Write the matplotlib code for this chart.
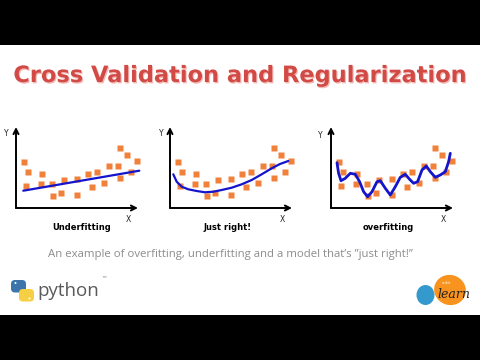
import matplotlib
matplotlib.use("Agg")
import matplotlib.pyplot as plt
import matplotlib.patheffects as pe
from matplotlib.patches import Circle, FancyBboxPatch, Ellipse

# scatter data (same points in all three panels), x right / y up from the axis origin
pts_x = [8.3, 12.3, 10, 25.7, 24.7, 35.7, 37.3, 44.7, 48.3, 60.7, 60.7,
         71.7, 75.7, 80.7, 88, 93, 102.3, 104.3, 111, 104.3, 115, 120.7]
pts_y = [46.3, 36.3, 22, 34, 24, 24, 12, 14.7, 28, 28.7, 12.7,
         34, 21, 36.3, 25, 42.3, 42.3, 59.7, 53, 30.3, 36.3, 47]

# fitted curves
under_x = [7.3, 123.3]
under_y = [17.3, 37.3]

right_x = [3.3, 6.7, 11.7, 18.3, 26.7, 35, 43.3, 51.7, 61.7, 71.7, 81.7, 91.7, 101.7, 110, 118.3]
right_y = [33.7, 26.3, 21.3, 18.7, 17, 15.7, 16.3, 18, 20.3, 23.7, 28, 33.7, 39.7, 44, 47]

over_x = [6, 7.6, 10, 14.3, 19.3, 24.3, 28.6, 32.6, 36.6, 41, 46, 49.3, 54.3, 59.3,
          64.3, 69.3, 74.3, 78.6, 82.6, 86.6, 91, 95.3, 99.3, 104.3, 109.3, 114.3, 117.6, 119.3]
over_y = [45.3, 34.7, 27.3, 29.7, 34.7, 33.7, 26.3, 16.3, 11.3, 16.3, 26.3, 27.3, 19.7, 13,
          21.3, 30.7, 33.7, 28.7, 24.7, 26.3, 38, 42, 36.3, 30.7, 33, 36.3, 46.3, 54.7]

titles = ["Underfitting", "Just right!", "overfitting"]
# panel origins in pixels (left, y of the x axis from top)
origins = [(16, 208), (170, 208), (331, 208)]
title_pos = [(82, 227), (228, 227), (388, 228)]
ylab_pos = [(6, 133), (161, 133), (320, 135)]
xlab_pos = [(128, 219), (282, 219), (443, 219)]

W, H = 480, 360
fig = plt.figure(figsize=(4.8, 3.6), dpi=100)
fig.patch.set_facecolor("white")

bg = fig.add_axes([0, 0, 1, 1])
bg.set_xlim(0, W)
bg.set_ylim(H, 0)
bg.axis("off")

# black letterbox bars
bg.fill_between([0, W], 0, 45, color="black", lw=0)
bg.fill_between([0, W], 315, H, color="black", lw=0)

# title with soft shadow
title = "Cross Validation and Regularization"
bg.text(240, 76, title, ha="center", va="center", fontsize=16.2,
        fontweight="bold", color="#d24a45", family="DejaVu Sans",
        path_effects=[pe.SimplePatchShadow(offset=(0.8, -1.0), shadow_rgbFace="#f2b8b4", alpha=1),
                      pe.Normal()])

pw, ph = 122, 81
curves = [(under_x, under_y, 1.6), (right_x, right_y, 1.6), (over_x, over_y, 2.0)]
for i, (ox, oy) in enumerate(origins):
    ax = fig.add_axes([ox / W, (H - oy) / H, pw / W, ph / H])
    ax.set_xlim(0, pw)
    ax.set_ylim(0, ph)
    ax.axis("off")
    ax.annotate("", xy=(0, 1.0), xytext=(0, 0), xycoords="axes fraction",
                arrowprops=dict(arrowstyle="->", lw=1.4, color="black",
                                shrinkA=0, shrinkB=0, mutation_scale=9))
    ax.annotate("", xy=(1.0, 0), xytext=(0, 0), xycoords="axes fraction",
                arrowprops=dict(arrowstyle="->", lw=1.4, color="black",
                                shrinkA=0, shrinkB=0, mutation_scale=9))
    ax.plot(pts_x, pts_y, "s", color="#f0803a", ms=4, mec="none", clip_on=False)
    cx, cy, lw = curves[i]
    ax.plot(cx, cy, color="#1414cc", lw=lw, solid_capstyle="round", clip_on=False)
    bg.text(*title_pos[i], titles[i], ha="center", va="center", fontsize=6,
            fontweight="bold", color="black")
    bg.text(*ylab_pos[i], "Y", ha="center", va="center", fontsize=5.5, color="#222222")
    bg.text(*xlab_pos[i], "X", ha="center", va="center", fontsize=5.5, color="#222222")

bg.text(230, 254, "An example of overfitting, underfitting and a model that\u2019s \u201djust right!\u201d",
        ha="center", va="center", fontsize=8.2, color="#8c8c8c", family="Open Sans")

# python logo
bg.add_patch(FancyBboxPatch((11, 280), 15, 12.5, boxstyle="round,pad=0,rounding_size=4",
                            fc="#3c74ab", ec="none"))
bg.add_patch(FancyBboxPatch((19, 289), 15, 12.5, boxstyle="round,pad=0,rounding_size=4",
                            fc="#f6cf45", ec="none"))
bg.add_patch(Circle((15.5, 283), 1.0, fc="white", ec="none"))
bg.add_patch(Circle((29.5, 298.5), 1.0, fc="white", ec="none"))
bg.text(37, 291, "python", ha="left", va="center", fontsize=13.5, color="#5a5a5a",
        family="Open Sans")
bg.text(101, 279, "\u2122", ha="left", va="center", fontsize=4, color="#777777")

# scikit-learn logo
bg.add_patch(Ellipse((425.5, 295), 18, 20, fc="#3499cd", ec="none"))
bg.add_patch(Ellipse((450, 290), 32, 30, angle=20, fc="#f7931e", ec="none"))
bg.text(454, 294, "learn", ha="center", va="center", fontsize=9, style="italic",
        color="#222222", family="DejaVu Serif")
bg.text(447, 283, "scikit", ha="center", va="center", fontsize=2.5, color="white")

fig.savefig("out.png", dpi=100, facecolor="white")
